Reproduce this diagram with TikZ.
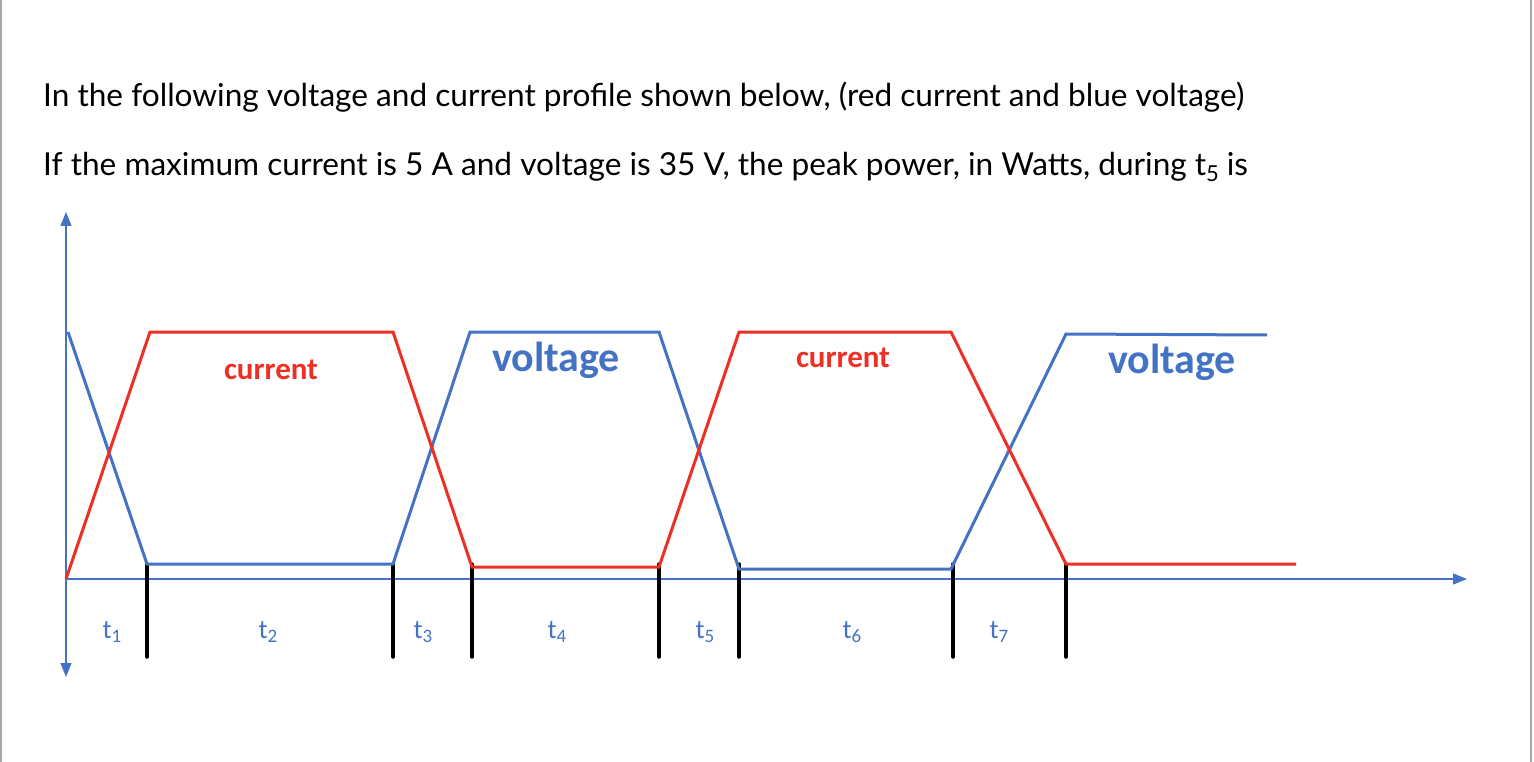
\documentclass[tikz,border=0pt]{standalone}
\usepackage{fontspec}
\setmainfont{Lato}
\newfontfamily\calfont{Carlito}
\usetikzlibrary{arrows.meta}
\definecolor{vblue}{HTML}{4472C4}
\definecolor{cred}{HTML}{EE3024}
\begin{document}
\begin{tikzpicture}[x=1pt,y=-1pt,
  axis/.style={vblue,line width=1.3pt,-{Triangle[length=14pt,width=11pt]}},
  cur/.style={cred,line width=3pt,line join=miter},
  volt/.style={vblue,line width=3pt,line join=miter},
  tick/.style={black,line width=3.5pt,line cap=round},
  tl/.style={vblue,font=\calfont\fontsize{27}{30}\selectfont},
  lab/.style={font=\calfont\bfseries\fontsize{31}{34}\selectfont},
  big/.style={font=\calfont\bfseries\fontsize{42}{46}\selectfont}]
\useasboundingbox (0,0) rectangle (1534,762);
\draw[gray!70,line width=2pt] (1,0) -- (1,762) (1531,0) -- (1531,762);
\node[anchor=base west,inner sep=0,font=\fontsize{31.6}{36}\selectfont] (l1) at (43,107) {In the following voltage and current profile shown below, (red current and blue voltage)};
\node[anchor=base west,inner sep=0,font=\fontsize{31.6}{36}\selectfont] (l2) at (43,176) {If the maximum current is 5 A and voltage is 35 V, the peak power, in Watts, during t\raisebox{-6pt}{\fontsize{22}{24}\selectfont 5} is};
\coordinate (o) at (66,579);
\coordinate (yt) at (66,212);
\coordinate (yb) at (66,677);
\coordinate (xr) at (1467,579);
\draw[axis] (o) -- (yt);
\draw[axis] (o) -- (yb);
\draw[axis] (o) -- (xr);
\foreach \x in {147,393,472,659,739,953,1066} \draw[tick] (\x,564) -- (\x,657);
\draw[volt] (68,332) -- (147,564) -- (393,564) -- (470,332) -- (659,332) -- (739,569) -- (951,569) -- (1066,334) -- (1267,335);
\draw[cur] (66,579) -- (150,332) -- (393,332) -- (472,567) -- (659,567) -- (739,332) -- (951,332) -- (1066,564) -- (1296,564);
\foreach \n/\x in {1/112,2/268,3/423,4/557,5/705,6/852,7/999}
  \node[tl] (t\n) at (\x,632) {t\raisebox{-4pt}{\fontsize{19}{20}\selectfont\n}};
\node[lab,cred] (c1) at (271,370) {current};
\node[big,vblue] (v1) at (556,360) {voltage};
\node[lab,cred] (c2) at (843,358) {current};
\node[big,vblue] (v2) at (1172,362) {voltage};
\end{tikzpicture}
\end{document}
